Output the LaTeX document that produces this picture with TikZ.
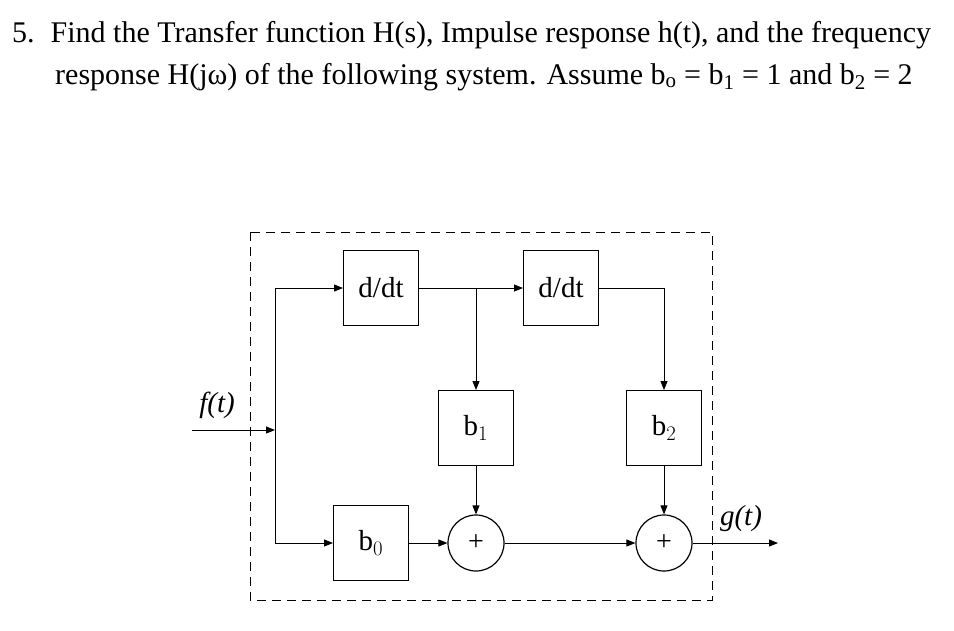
\documentclass[tikz,border=0pt]{standalone}
\usepackage{fontspec}
\setmainfont{Liberation Serif}
\usetikzlibrary{arrows.meta}
\begin{document}
\begin{tikzpicture}[x=1pt,y=-1pt,
 blk/.style={draw,line width=1pt,minimum width=75pt,minimum height=75pt,inner sep=0,font=\fontsize{29}{32}\selectfont},
 sm/.style={draw,circle,line width=1.2pt,minimum size=56pt,inner sep=0,font=\fontsize{28}{30}\selectfont},
 ar/.style={line width=0.9pt,-{Triangle[length=9pt,width=7pt]}},
 ln/.style={line width=0.9pt}]
\useasboundingbox (0,0) rectangle (954,630);
\node[anchor=base west,inner sep=0,font=\fontsize{30}{32}\selectfont] (t1) at (12,42) {5.\hspace{16pt}Find the Transfer function H(s), Impulse response h(t), and the frequency};
\node[anchor=base west,inner sep=0,font=\fontsize{30}{32}\selectfont] (t2) at (55,84) {response H(jω) of the following system. Assume b\textsubscript{o} = b\textsubscript{1} = 1 and b\textsubscript{2} = 2};
\draw[dashed,line width=0.9pt,dash pattern=on 9pt off 6pt] (250,232) rectangle (712,600);
\node[blk] (d1) at (381,288) {d/dt};
\node[blk] (d2) at (561,288) {d/dt};
\node[blk] (b1) at (476,428) {b$_1$};
\node[blk] (b2) at (664,428) {b$_2$};
\node[blk] (b0) at (371,543) {b$_0$};
\node[sm] (s1) at (476,543) {+};
\node[sm] (s2) at (664,543) {+};
\coordinate (in) at (192,430);
\coordinate (br) at (275,430);
\coordinate (out) at (778,543);
\node[font=\itshape\fontsize{29}{30}\selectfont] (f) at (217,405) {f(t)};
\node[font=\itshape\fontsize{29}{30}\selectfont] (g) at (741,519) {g(t)};
\draw[ar] (in) -- (br);
\draw[ar] (br) |- (d1.west);
\draw[ar] (br) |- (b0.west);
\draw[ar] (d1.east) -- (d2.west);
\draw[ar] (d1.east) -| (b1.north);
\draw[ar] (d2.east) -| (b2.north);
\draw[ar] (b1.south) -- (s1.north);
\draw[ar] (b2.south) -- (s2.north);
\draw[ar] (b0.east) -- (s1.west);
\draw[ar] (s1.east) -- (s2.west);
\draw[ar] (s2.east) -- (out);
\end{tikzpicture}
\end{document}
